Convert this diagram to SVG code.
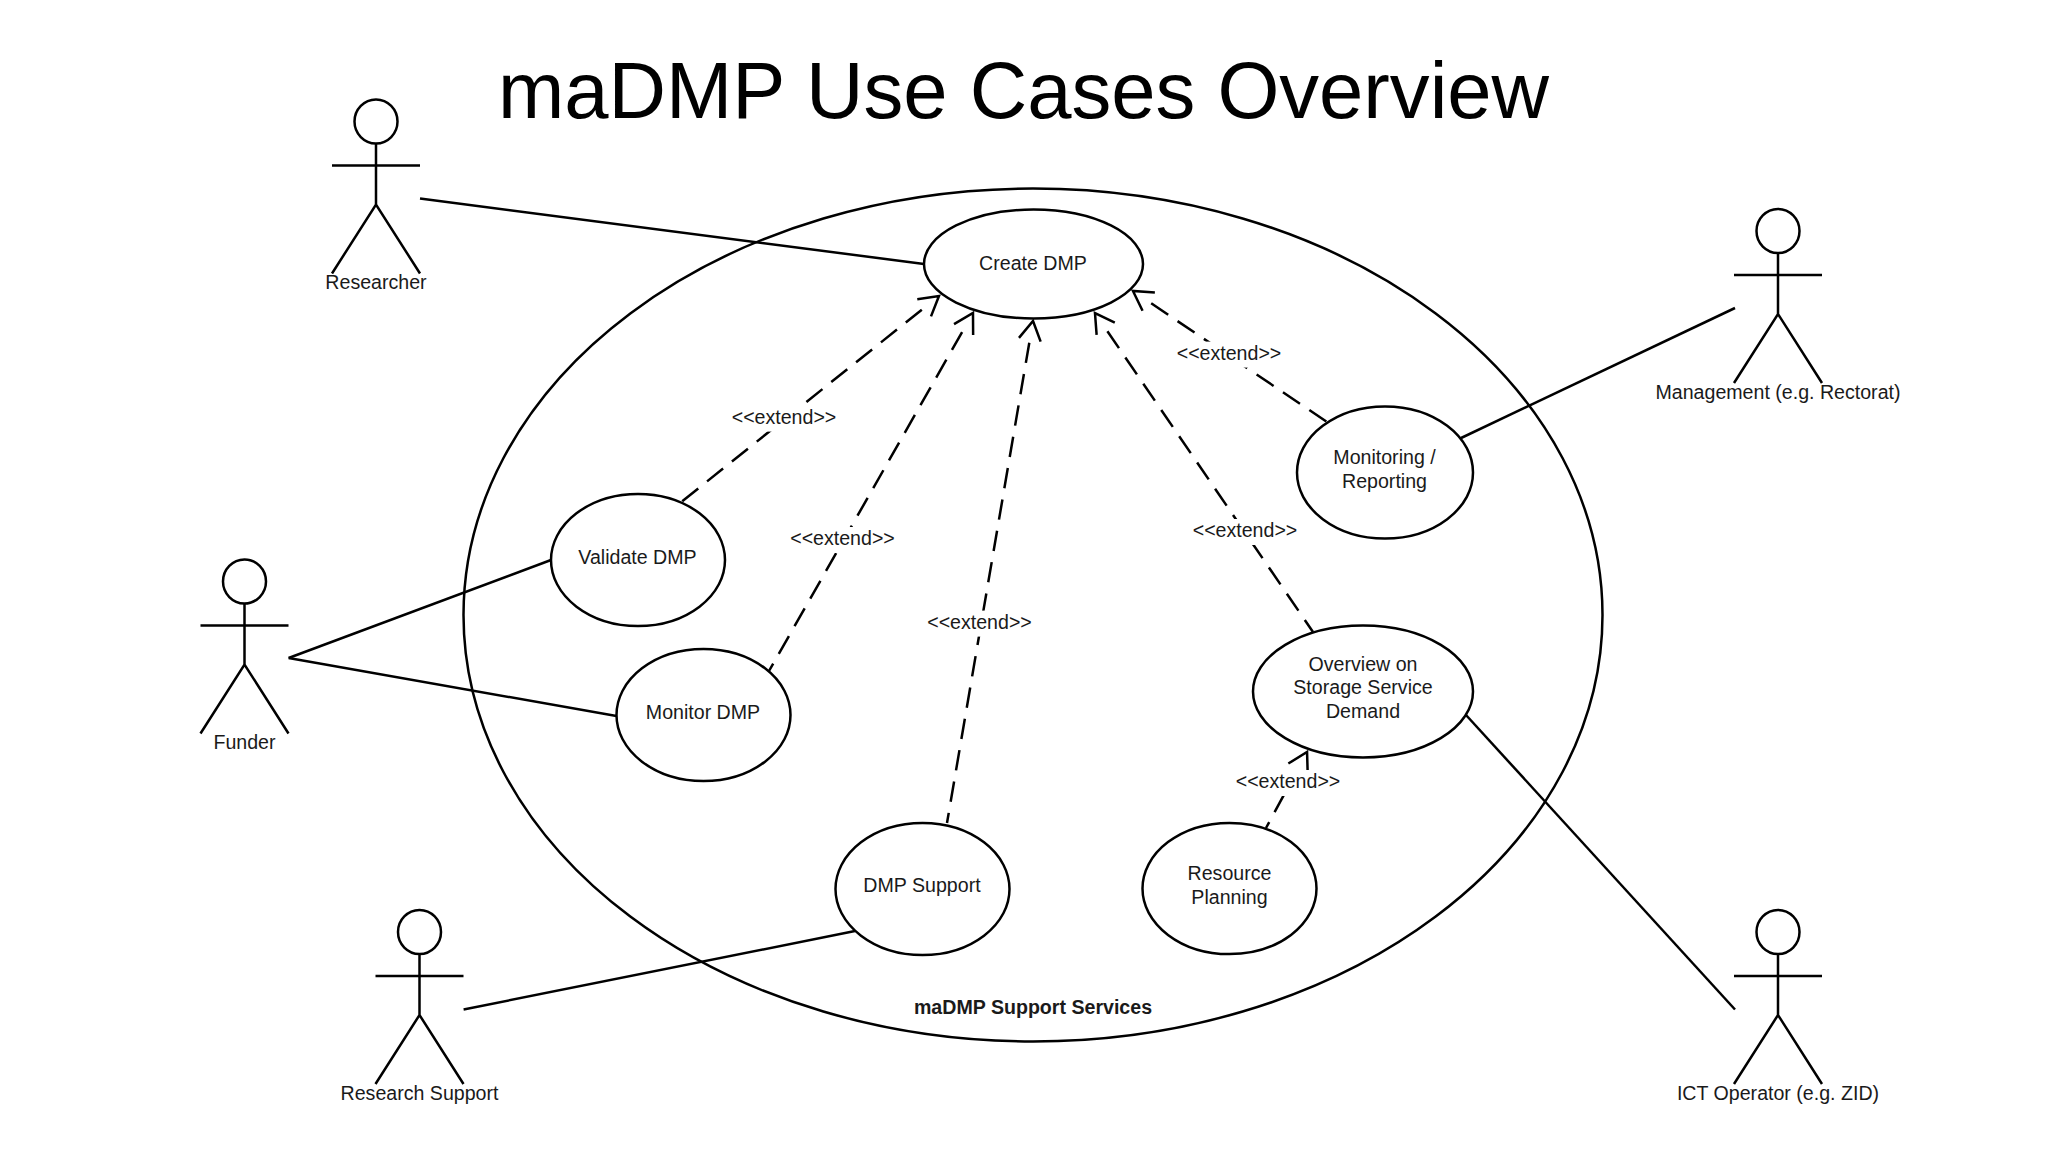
<svg xmlns="http://www.w3.org/2000/svg" width="2048" height="1152" viewBox="0 0 2048 1152">
<style>
text{font-family:"Liberation Sans",Arial,sans-serif;font-size:19.6px;fill:#1a1a1a;text-anchor:middle}
.title{font-size:79.6px;fill:#000}
.b{font-weight:bold}
.s{fill:#fff;stroke:#000;stroke-width:2.5}
.n{fill:none;stroke:#000;stroke-width:2.5}
.c{fill:none;stroke:#000;stroke-width:2.5}
.d{fill:none;stroke:#000;stroke-width:2.5;stroke-dasharray:20.5 11.3;marker-start:url(#open)}
.w{fill:#fff;stroke:none}
</style>
<defs>
<marker id="open" markerUnits="userSpaceOnUse" markerWidth="1" markerHeight="1" refX="0" refY="0" orient="auto-start-reverse" overflow="visible">
<path d="M3,-11L22,0L3,11" fill="none" stroke="#000" stroke-width="2.5"/>
</marker>
<g id="actor">
<ellipse class="n" cx="0" cy="0" rx="21.5" ry="22"/>
<path class="n" d="M0,22V83M-44,44H44M-44,152L0,83L44,152"/>
</g>
</defs>
<rect width="2048" height="1152" fill="#fff"/>
<text class="title" x="1023.5" y="118">maDMP Use Cases Overview</text>
<g id="boundary">
<ellipse class="n" cx="1033" cy="615" rx="569.5" ry="426.5"/>
<text class="b" x="1033" y="1013.5">maDMP Support Services</text>
</g>
<g id="connectors">
<line class="c" x1="420" y1="198.5" x2="924" y2="264"/>
<line class="c" x1="1735" y1="308" x2="1459" y2="439"/>
<line class="c" x1="288.6" y1="658" x2="551" y2="560"/>
<line class="c" x1="288.6" y1="658" x2="616.5" y2="716"/>
<line class="c" x1="463.6" y1="1009.5" x2="855" y2="931"/>
<line class="c" x1="1735" y1="1009.5" x2="1466" y2="715"/>
<line class="d" x1="921.8" y1="309.7" x2="680" y2="503"/>
<line class="d" x1="962.1" y1="332.1" x2="769" y2="671"/>
<line class="d" x1="1029.3" y1="342.7" x2="947" y2="823"/>
<line class="d" x1="1107.4" y1="331.2" x2="1313" y2="632"/>
<line class="d" x1="1151.2" y1="303.3" x2="1327" y2="422"/>
<line class="d" x1="1296.6" y1="771.4" x2="1266" y2="828" stroke-dashoffset="6"/>
<g id="connector-labels">
<rect class="w" x="732" y="405.6" width="104" height="26"/><text x="784" y="423.6">&lt;&lt;extend&gt;&gt;</text>
<rect class="w" x="790.5" y="527" width="104" height="26"/><text x="842.5" y="545">&lt;&lt;extend&gt;&gt;</text>
<rect class="w" x="927.5" y="610.6" width="104" height="26"/><text x="979.5" y="628.6">&lt;&lt;extend&gt;&gt;</text>
<rect class="w" x="1193" y="519" width="104" height="26"/><text x="1245" y="537">&lt;&lt;extend&gt;&gt;</text>
<rect class="w" x="1177" y="341.6" width="104" height="26"/><text x="1229" y="359.6">&lt;&lt;extend&gt;&gt;</text>
<rect class="w" x="1236" y="770" width="104" height="26"/><text x="1288" y="788">&lt;&lt;extend&gt;&gt;</text>
</g>
</g>
<g id="create-dmp"><ellipse class="s" cx="1033.5" cy="264" rx="109.5" ry="54.5"/><text x="1033" y="269.5">Create DMP</text></g>
<g id="validate-dmp"><ellipse class="s" cx="638" cy="560" rx="87" ry="66"/><text x="637.5" y="563.5">Validate DMP</text></g>
<g id="monitor-dmp"><ellipse class="s" cx="703.5" cy="715" rx="87" ry="66"/><text x="703" y="719">Monitor DMP</text></g>
<g id="dmp-support"><ellipse class="s" cx="922.5" cy="889" rx="87" ry="66"/><text x="922" y="892">DMP Support</text></g>
<g id="resource-planning"><ellipse class="s" cx="1229.5" cy="888.5" rx="87" ry="65.6"/><text x="1229.5" y="880">Resource</text><text x="1229.5" y="903.5">Planning</text></g>
<g id="overview-storage"><ellipse class="s" cx="1363" cy="691.5" rx="110" ry="66"/><text x="1363" y="670.5">Overview on</text><text x="1363" y="694">Storage Service</text><text x="1363" y="717.5">Demand</text></g>
<g id="monitoring-reporting"><ellipse class="s" cx="1385" cy="472.5" rx="88" ry="66"/><text x="1384.5" y="464">Monitoring /</text><text x="1384.5" y="487.5">Reporting</text></g>
<g id="researcher"><use href="#actor" x="376" y="121.5"/><text x="376" y="289">Researcher</text></g>
<g id="funder"><use href="#actor" x="244.5" y="581.5"/><text x="244.5" y="749">Funder</text></g>
<g id="management"><use href="#actor" x="1778" y="231"/><text x="1778" y="399">Management (e.g. Rectorat)</text></g>
<g id="research-support"><use href="#actor" x="419.5" y="932"/><text x="419.5" y="1100">Research Support</text></g>
<g id="ict-operator"><use href="#actor" x="1778" y="932"/><text x="1778" y="1100">ICT Operator (e.g. ZID)</text></g>
</svg>
